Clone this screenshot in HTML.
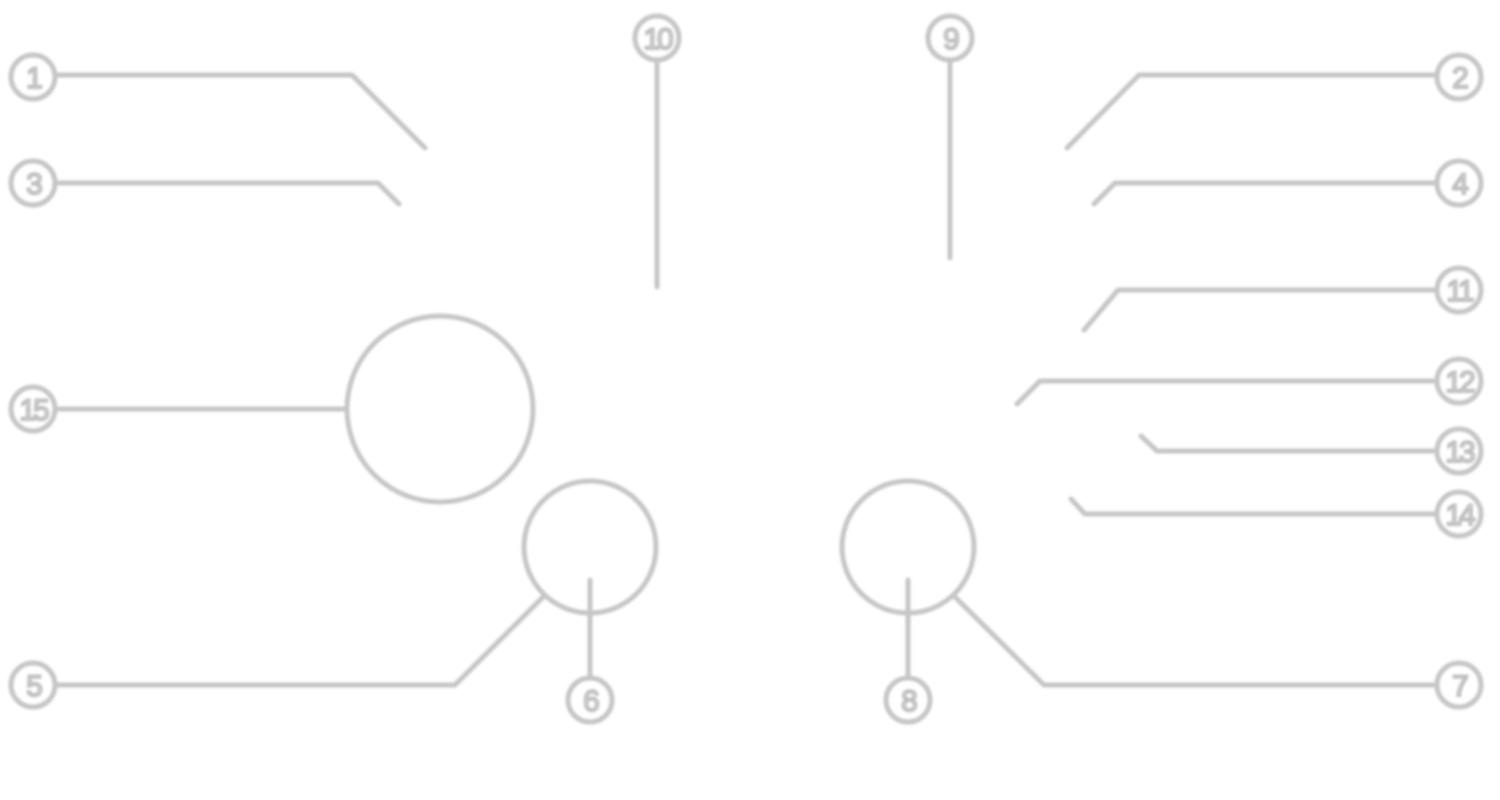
<!DOCTYPE html>
<html><head><style>html,body{margin:0;padding:0;background:#fff;width:1500px;height:800px;overflow:hidden}</style></head>
<body>
<svg width="1500" height="800" viewBox="0 0 1500 800" xmlns="http://www.w3.org/2000/svg">
<defs><filter id="b" x="-5%" y="-5%" width="110%" height="110%"><feGaussianBlur stdDeviation="1.2"/></filter></defs>
<g filter="url(#b)" fill="none" stroke-linecap="round" stroke-linejoin="round">
<g id="shapes" stroke="#c6c6c6" stroke-width="5">
<polyline points="55,75 352,75 425,148"/>
<polyline points="55,183 378,183 399,204"/>
<polyline points="657,60 657,287"/>
<polyline points="950,60 950,258"/>
<polyline points="1437,75 1139,75 1067,148"/>
<polyline points="1437,183 1115,183 1094,204"/>
<polyline points="1437,290 1118,290 1084,330"/>
<polyline points="1437,381 1040,381 1017,404"/>
<polyline points="1437,451 1157,451 1141,436"/>
<polyline points="1437,514 1085,514 1071,499"/>
<polyline points="55,409 346,409"/>
<polyline points="590,580 590,676"/>
<polyline points="908,580 908,676"/>
<polyline points="55,685 455,685 543,597"/>
<polyline points="1437,685 1044,685 955,597"/>
<circle cx="440" cy="409" r="93"/>
<circle cx="590" cy="547" r="66"/>
<circle cx="908" cy="547" r="66"/>
<circle cx="33" cy="77" r="22"/><circle cx="33" cy="183" r="22"/><circle cx="33" cy="409" r="22"/><circle cx="33" cy="685" r="22"/>
<circle cx="657" cy="38" r="22"/><circle cx="950" cy="38" r="22"/>
<circle cx="1459" cy="77" r="22"/><circle cx="1459" cy="183" r="22"/><circle cx="1459" cy="290" r="22"/><circle cx="1459" cy="381" r="22"/><circle cx="1459" cy="451" r="22"/><circle cx="1459" cy="514" r="22"/><circle cx="1459" cy="685" r="22"/>
<circle cx="590" cy="700" r="22"/><circle cx="908" cy="700" r="22"/>
</g>
</g>
<g filter="url(#b)" font-family="Liberation Sans, sans-serif" font-size="30" fill="#e4e4e4" stroke="#bdbdbd" stroke-width="2" text-anchor="middle" letter-spacing="-3">
<text x="33" y="88">1</text><text x="33" y="194">3</text><text x="33" y="420">15</text><text x="33" y="696">5</text>
<text x="657" y="49">10</text><text x="950" y="49">9</text>
<text x="1459" y="88">2</text><text x="1459" y="194">4</text><text x="1459" y="301">11</text><text x="1459" y="392">12</text><text x="1459" y="462">13</text><text x="1459" y="525">14</text><text x="1459" y="696">7</text>
<text x="590" y="711">6</text><text x="908" y="711">8</text>
</g>
</svg>
</body></html>
